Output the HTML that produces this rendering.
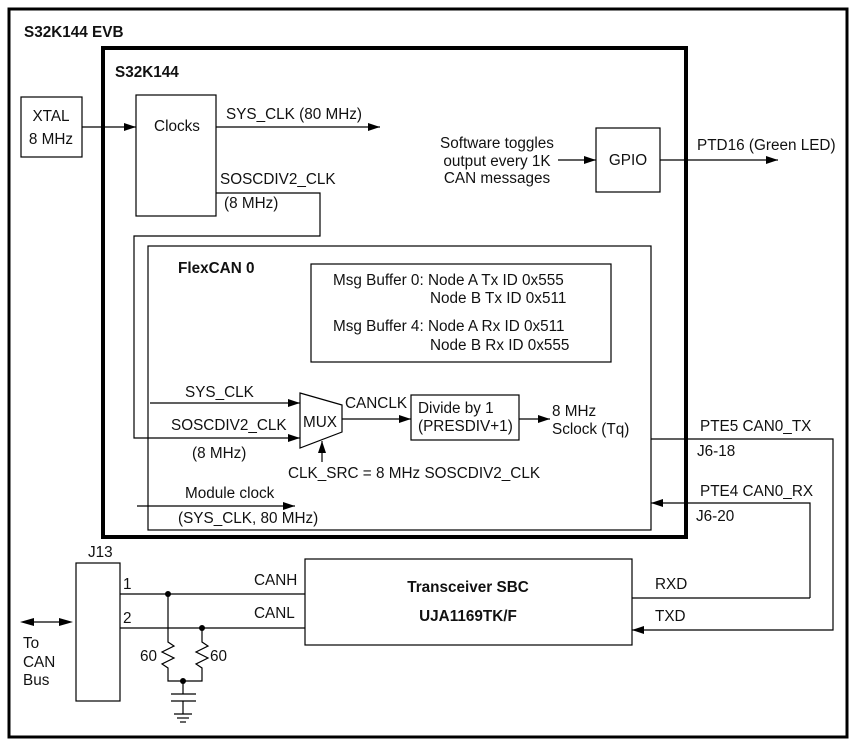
<!DOCTYPE html>
<html><head><meta charset="utf-8"><style>
body{margin:0;background:#fff}
svg text{font-family:"Liberation Sans",sans-serif;font-size:15.3px;fill:#111}
.b{font-weight:bold}
</style></head><body>
<svg width="856" height="745" viewBox="0 0 856 745" xmlns="http://www.w3.org/2000/svg">
<defs><marker id="a" markerWidth="12" markerHeight="8" refX="12" refY="4" orient="auto" markerUnits="userSpaceOnUse"><path d="M0,0 L12,4 L0,8 Z" fill="#000"/></marker></defs>
<g fill="none" stroke="#000">
<rect x="9" y="9" width="838" height="728" stroke-width="3"/>
<rect x="103" y="48" width="583" height="489" stroke-width="4"/>
<g stroke-width="1.2">
<rect x="21" y="97" width="61" height="60"/>
<rect x="136" y="95" width="80" height="121"/>
<rect x="148" y="246" width="503" height="284"/>
<rect x="311" y="264" width="300" height="98"/>
<rect x="411" y="395" width="108" height="45"/>
<rect x="596" y="128" width="64" height="64"/>
<rect x="305" y="559" width="327" height="86"/>
<rect x="76" y="563" width="44" height="138"/>
<path d="M300,393 L342,405 L342,432 L300,448 Z"/>
<line x1="82" y1="127" x2="136" y2="127" marker-end="url(#a)"/>
<line x1="216" y1="127" x2="380" y2="127" marker-end="url(#a)"/>
<polyline points="216,193 320,193 320,236 134,236 134,438 300,438" marker-end="url(#a)"/>
<line x1="150" y1="403" x2="300" y2="403" marker-end="url(#a)"/>
<line x1="322" y1="462" x2="322" y2="441" marker-end="url(#a)"/>
<line x1="342" y1="419" x2="411" y2="419" marker-end="url(#a)"/>
<line x1="519" y1="419" x2="550" y2="419" marker-end="url(#a)"/>
<line x1="137" y1="506" x2="295" y2="506" marker-end="url(#a)"/>
<line x1="558" y1="160" x2="596" y2="160" marker-end="url(#a)"/>
<line x1="660" y1="160" x2="778" y2="160" marker-end="url(#a)"/>
<polyline points="651,439 833,439 833,630 632,630" marker-end="url(#a)"/>
<polyline points="810,598 632,598"/>
<polyline points="810,598 810,503 651,503" marker-end="url(#a)"/>
<line x1="120" y1="594" x2="305" y2="594"/>
<line x1="120" y1="628" x2="305" y2="628"/>
<polyline points="168,594 168,642 174,646 162,652 174,658 162,664 168,668 168,681 202,681 202,668 196,664 208,658 196,652 208,646 202,642 202,628"/>
<line x1="183" y1="681" x2="183" y2="694"/>
<line x1="171" y1="694" x2="196" y2="694"/>
<line x1="171" y1="701" x2="196" y2="701"/>
<line x1="183" y1="701" x2="183" y2="714"/>
<line x1="174" y1="714" x2="192" y2="714"/>
<line x1="177" y1="718" x2="189" y2="718"/>
<line x1="180" y1="722" x2="186" y2="722"/>
<line x1="32" y1="622" x2="62" y2="622"/>
</g></g>
<path d="M20,622 L34,618 L34,626 Z M73,622 L59,618 L59,626 Z" fill="#000"/>
<circle cx="168" cy="594" r="3" fill="#000"/><circle cx="202" cy="628" r="3" fill="#000"/><circle cx="183" cy="681" r="3" fill="#000"/>
<text x="24" y="37" class="b">S32K144 EVB</text>
<text x="115" y="77" class="b">S32K144</text>
<text x="51" y="121" text-anchor="middle">XTAL</text>
<text x="51" y="144" text-anchor="middle">8 MHz</text>
<text x="177" y="131" text-anchor="middle">Clocks</text>
<text x="226" y="119">SYS_CLK (80 MHz)</text>
<text x="220" y="184">SOSCDIV2_CLK</text>
<text x="224" y="208">(8 MHz)</text>
<text x="497" y="148" text-anchor="middle">Software toggles</text>
<text x="497" y="166" text-anchor="middle">output every 1K</text>
<text x="497" y="183" text-anchor="middle">CAN messages</text>
<text x="628" y="165" text-anchor="middle">GPIO</text>
<text x="697" y="150">PTD16 (Green LED)</text>
<text x="178" y="273" class="b">FlexCAN 0</text>
<text x="333" y="285">Msg Buffer 0: Node A Tx ID 0x555</text>
<text x="430" y="303">Node B Tx ID 0x511</text>
<text x="333" y="331">Msg Buffer 4: Node A Rx ID 0x511</text>
<text x="430" y="350">Node B Rx ID 0x555</text>
<text x="185" y="397">SYS_CLK</text>
<text x="171" y="430">SOSCDIV2_CLK</text>
<text x="192" y="458">(8 MHz)</text>
<text x="303" y="427">MUX</text>
<text x="345" y="408">CANCLK</text>
<text x="418" y="413">Divide by 1</text>
<text x="418" y="431">(PRESDIV+1)</text>
<text x="552" y="416">8 MHz</text>
<text x="552" y="434">Sclock (Tq)</text>
<text x="288" y="478">CLK_SRC = 8 MHz SOSCDIV2_CLK</text>
<text x="185" y="498">Module clock</text>
<text x="178" y="523">(SYS_CLK, 80 MHz)</text>
<text x="700" y="431">PTE5 CAN0_TX</text>
<text x="697" y="456">J6-18</text>
<text x="700" y="496">PTE4 CAN0_RX</text>
<text x="696" y="521">J6-20</text>
<text x="468" y="592" text-anchor="middle" class="b">Transceiver SBC</text>
<text x="468" y="621" text-anchor="middle" class="b">UJA1169TK/F</text>
<text x="655" y="589">RXD</text>
<text x="655" y="621">TXD</text>
<text x="88" y="557">J13</text>
<text x="123" y="589">1</text>
<text x="123" y="623">2</text>
<text x="254" y="585">CANH</text>
<text x="254" y="618">CANL</text>
<text x="140" y="661">60</text>
<text x="210" y="661">60</text>
<text x="23" y="648">To</text>
<text x="23" y="667">CAN</text>
<text x="23" y="685">Bus</text>
</svg>
</body></html>
